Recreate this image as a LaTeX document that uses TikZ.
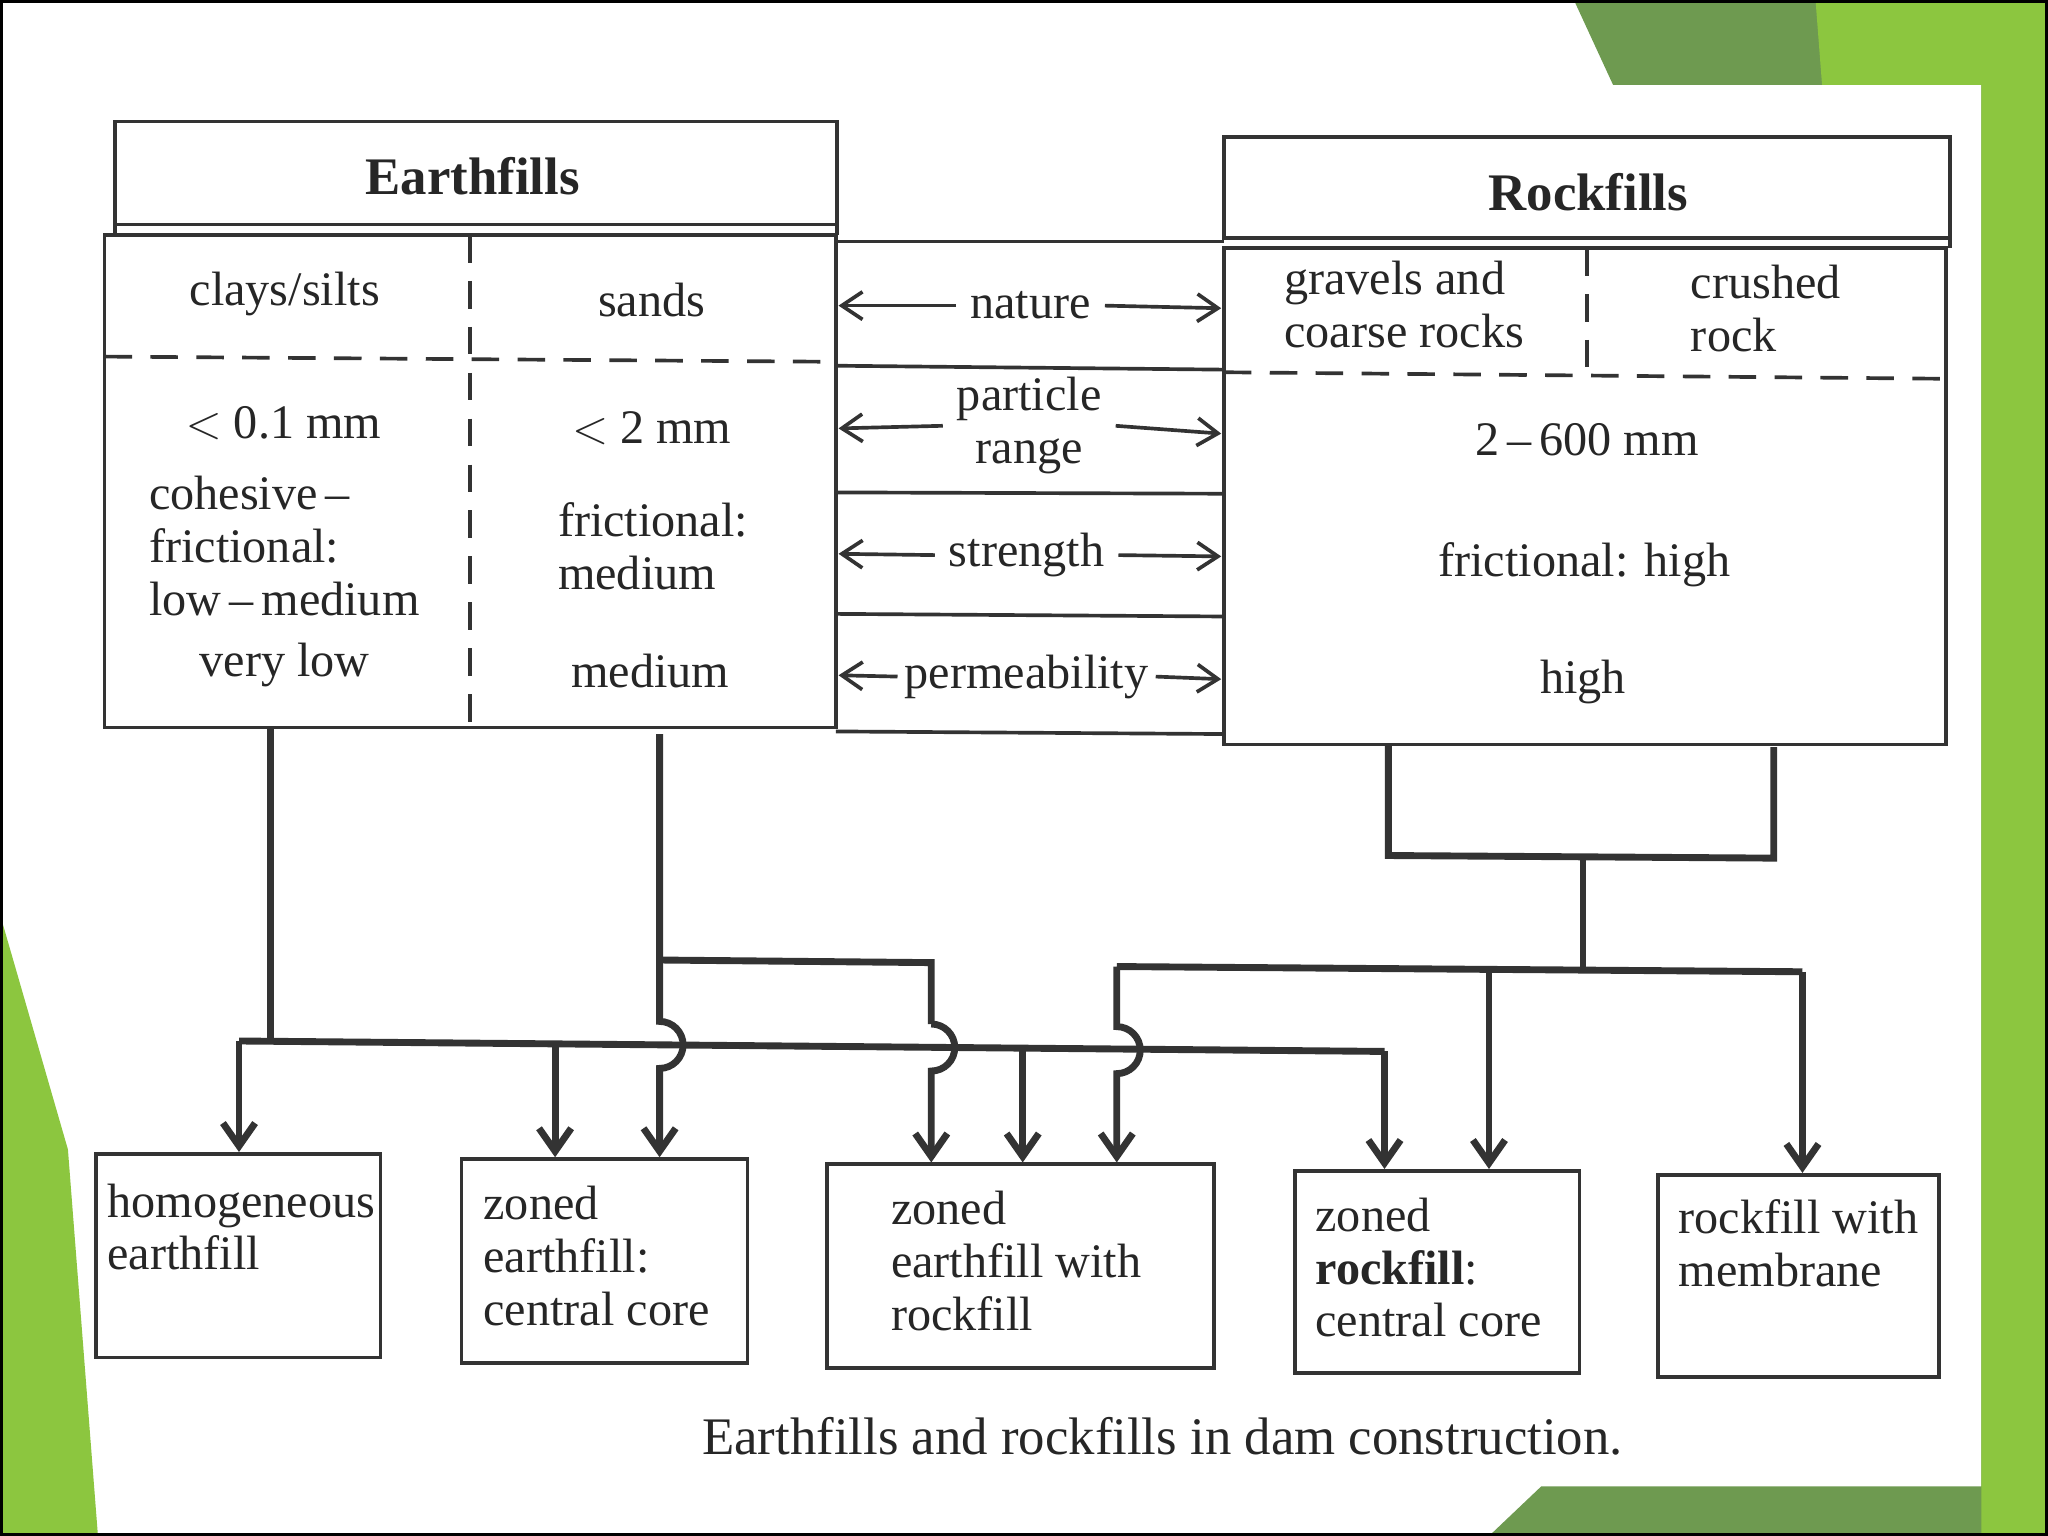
\documentclass[tikz,border=0pt]{standalone}
\usepackage{fontspec}
\setmainfont{Liberation Serif}
\usetikzlibrary{arrows.meta}
\definecolor{gdark}{HTML}{6E9A50}
\definecolor{glight}{HTML}{8CC63F}
\tikzset{
 ln/.style={line width=1.6pt,draw=black!80},
 fl/.style={line width=3pt,draw=black!80},
 ar/.style={fl,-{Straight Barb[length=10pt,width=14pt]}},
 tx/.style={font=\fontsize{21}{23}\selectfont,text=black!85,align=left},
 hd/.style={font=\fontsize{23}{27}\selectfont\bfseries,text=black!85},
 lb/.style={font=\fontsize{21}{23}\selectfont,text=black!85,inner sep=6pt},
 hr/.style={ln,->,>={Straight Barb[length=9pt,width=12pt]}}
}
\begin{document}
\begin{tikzpicture}[x=0.02cm,y=-0.02cm]
\useasboundingbox (0,0) rectangle (1568,1176);
\fill[white] (0,0) rectangle (1568,1176);
% green decorations
\fill[gdark] (1205,0) -- (1568,0) -- (1568,1176) -- (1140,1176) -- (1180,1138) -- (1517,1138) -- (1517,65) -- (1235,65) -- cycle;
\fill[glight] (1390,0) -- (1568,0) -- (1568,1176) -- (1517,1176) -- (1517,65) -- (1395,65) -- cycle;
\fill[glight] (0,700) -- (52,880) -- (75,1176) -- (0,1176) -- cycle;
\draw[line width=3pt] (0,0) rectangle (1568,1176);
% Earthfills
\draw[ln] (88,93) rectangle (641,172);
\draw[ln] (80,180) rectangle (640,557);
\draw[ln] (88,172) -- (88,180);\draw[ln](641,172)--(641,180);
\node[hd] (eh) at (362,135) {Earthfills};
\draw[ln,dashed,dash pattern=on 12pt off 8pt] (360,180) -- (360,557);
\draw[ln,dashed,dash pattern=on 12pt off 8pt] (80,273) -- (640,277);
\node[tx] (e1) at (218,225) {clays/silts};
\node[tx] (e2) at (499,230) {sands};
\node[tx] (e3) at (217,324) {$<$ 0.1 mm};
\node[tx,anchor=west] (e4) at (108,418) {cohesive\,--\\frictional:\\low\,--\,medium};
\node[tx] (e5) at (218,509) {very low};
\node[tx] (e6) at (499,328) {$<$ 2 mm};
\node[tx] (e7) at (500,418) {frictional:\\medium};
\node[tx] (e8) at (498,514) {medium};
% middle
\draw[ln] (640,185) -- (937,185);
\draw[ln] (640,280) -- (937,283);
\draw[ln] (640,377) -- (937,378);
\draw[ln] (640,470) -- (937,472);
\draw[ln] (640,560) -- (937,562);
\node[lb] (m1) at (789,234) {nature};
\node[lb,align=center] (m2) at (788,326) {particle\\range};
\node[lb] (m3) at (786,425) {strength};
\node[lb,inner sep=3pt] (m4) at (786,518) {permeability};
\draw[hr] (m1.west) -- (642,234); \draw[hr] (m1.east) -- (935,236);
\draw[hr] (m2.west) -- (642,328); \draw[hr] (m2.east) -- (935,332);
\draw[hr] (m3.west) -- (642,424); \draw[hr] (m3.east) -- (935,426);
\draw[hr] (m4.west) -- (642,517); \draw[hr] (m4.east) -- (935,520);
% Rockfills
\draw[ln] (937,105) rectangle (1493,182);
\draw[ln] (937,190) rectangle (1490,570);
\draw[ln] (1493,182)--(1493,190);
\node[hd] (rh) at (1216,147) {Rockfills};
\draw[ln,dashed,dash pattern=on 12pt off 8pt] (1215,190) -- (1215,287);
\draw[ln,dashed,dash pattern=on 12pt off 8pt] (937,285) -- (1490,290);
\node[tx] (r1) at (1075,233) {gravels and\\coarse rocks};
\node[tx] (r2) at (1352,236) {crushed\\rock};
\node[tx] (r3) at (1215,337) {2\,--\,600 mm};
\node[tx] (r4) at (1213,432) {frictional: high};
\node[tx] (r5) at (1212,522) {high};
% boxes
\node[draw,ln,minimum width=218*0.02cm,minimum height=156*0.02cm,anchor=north west] (b1) at (72,882) {};
\node[tx,anchor=north west] (t1) at (76,900) {homogeneous\\earthfill};
\node[draw,ln,minimum width=219*0.02cm,minimum height=156*0.02cm,anchor=north west] (b2) at (352,886) {};
\node[tx,anchor=north west] (t2) at (364,902) {zoned\\earthfill:\\central core};
\node[draw,ln,minimum width=296*0.02cm,minimum height=156*0.02cm,anchor=north west] (b3) at (632,890) {};
\node[tx,anchor=north west] (t3) at (676,906) {zoned\\earthfill with\\rockfill};
\node[draw,ln,minimum width=218*0.02cm,minimum height=155*0.02cm,anchor=north west] (b4) at (990,895) {};
\node[tx,anchor=north west] (t4) at (1001,911) {zoned\\\textbf{rockfill}:\\central core};
\node[draw,ln,minimum width=215*0.02cm,minimum height=155*0.02cm,anchor=north west] (b5) at (1268,898) {};
\node[tx,anchor=north west] (t5) at (1279,912) {rockfill with\\membrane};
% connectors
\draw[fl] (207,557) -- (207,797);
\draw[fl] (183,797) -- (1060,805);
\draw[ar] (183,797) -- (183,882);
\draw[ar] (425,800) -- (425,886);
\draw[ar] (783,803) -- (783,890);
\draw[ar] (1060,805) -- (1060,895);
\draw[ar] (505,562) -- (505,782) arc(-90:90:18) -- (505,886);
\draw[fl] (505,735) -- (713,737) -- (713,784);
\draw[ar] (713,784) arc(-90:90:18) -- (713,890);
\draw[fl] (1063,570) -- (1063,655) -- (1358,657) -- (1358,572);
\draw[fl] (1212,656) -- (1212,742);
\draw[fl] (855,740) -- (1380,744);
\draw[ar] (855,740) -- (855,786) arc(-90:90:18) -- (855,890);
\draw[ar] (1140,742) -- (1140,895);
\draw[ar] (1380,744) -- (1380,898);
\node[font=\fontsize{23}{28}\selectfont,text=black!85] (cap) at (890,1100) {Earthfills and rockfills in dam construction.};
\end{tikzpicture}
\end{document}
